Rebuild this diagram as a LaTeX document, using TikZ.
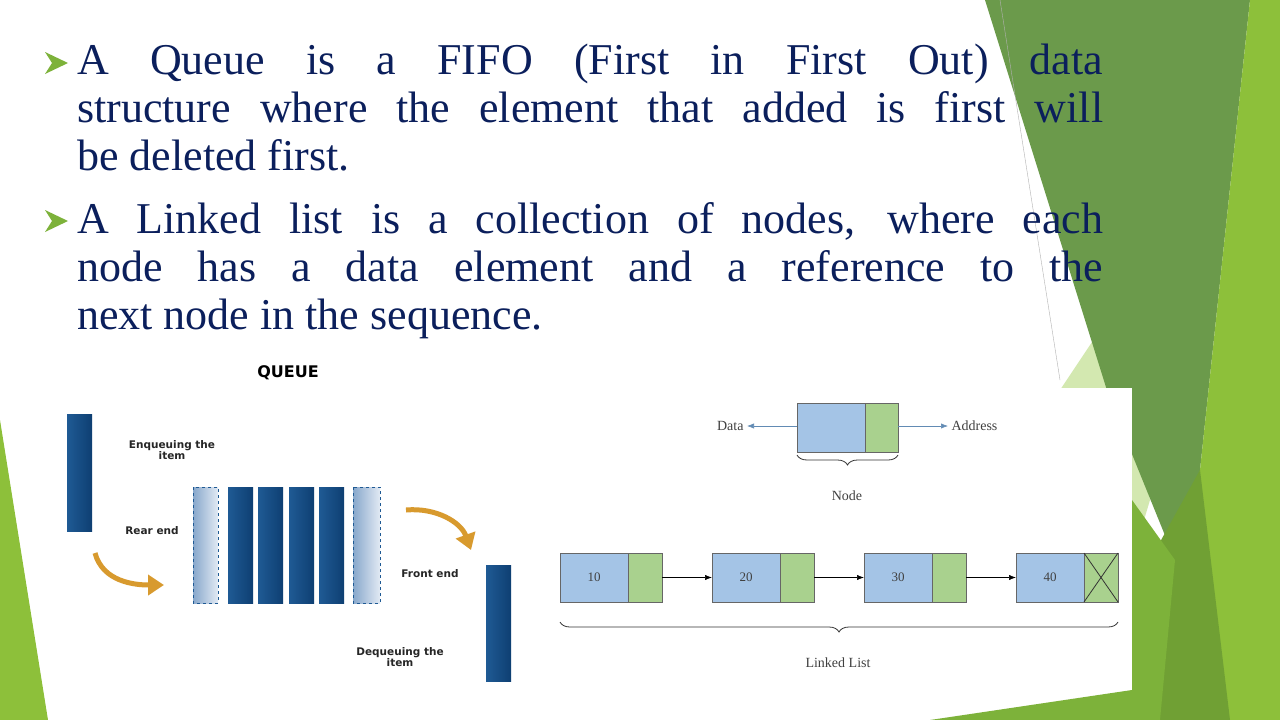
\documentclass[tikz,border=0pt]{standalone}
\usepackage{fontspec}
\setmainfont{Liberation Serif}
\newfontfamily\qfont{DejaVu Sans}
\usetikzlibrary{decorations.pathreplacing,arrows.meta}
\definecolor{navy}{HTML}{0B1F5C}
\definecolor{qblue}{HTML}{1F5A94}
\definecolor{qdark}{HTML}{0E3F72}
\definecolor{qlight}{HTML}{B5C9E3}
\definecolor{lblue}{HTML}{A4C4E6}
\definecolor{lgreen}{HTML}{A9D18E}
\definecolor{gdark}{HTML}{6B9A4B}
\definecolor{gmid}{HTML}{7DB23A}
\definecolor{gbright}{HTML}{8DC03A}
\definecolor{gpale}{HTML}{D3E8B0}
\definecolor{orng}{HTML}{D89A2E}
\tikzset{
 bar/.style={left color=qblue, right color=qdark, draw=none},
 ghost/.style={left color=qlight!70!qblue, right color=qlight!40, draw=qblue, dashed},
 qlab/.style={font=\qfont\bfseries\fontsize{10.5}{11}\selectfont, align=center, text=black!85},
 bcell/.style={fill=lblue, draw=gray!80!black, line width=0.6pt},
 gcell/.style={fill=lgreen, draw=gray!80!black, line width=0.6pt},
 llab/.style={font=\fontsize{14}{15}\selectfont, text=black!75},
 larr/.style={-{Latex[length=7pt]}, line width=0.6pt},
 oarr/.style={orng, line width=5pt, -{Triangle[length=16pt,width=20pt]}},
 bul/.style={fill=gmid, draw=none},
 para/.style={anchor=north west, inner sep=0pt, text width=1026pt, align=justify, text=navy, font=\fontsize{44}{48}\selectfont}
}
\begin{document}
\begin{tikzpicture}[x=1pt,y=-1pt]
\useasboundingbox (0,0) rectangle (1280,720);
\fill[white] (0,0) rectangle (1280,720);
% background greens
\fill[gpale] (1060,390) -- (1120,300) -- (1150,500) -- (1132,560) -- cycle;
\fill[gdark] (985,0) -- (1250,0) -- (1200,470) -- (1175,560) -- (1110,400) -- cycle;
\fill[gbright] (1250,0) -- (1280,0) -- (1280,720) -- (1140,720) -- (1200,470) -- cycle;
\fill[gmid!90!black] (1150,560) -- (1200,470) -- (1230,720) -- (1140,720) -- cycle;
\fill[gmid] (1132,500) -- (1175,560) -- (1160,720) -- (1132,720) -- cycle;
\fill[gmid] (930,720) -- (1132,690) -- (1132,720) -- cycle;
\fill[gbright] (0,420) -- (48,720) -- (0,720) -- cycle;
\draw[gray!60, line width=0.4pt] (1000,0) -- (1060,380);
% text
\fill[bul] (45,52) -- (68,63) -- (45,74) -- (52,63) -- cycle;
\fill[bul] (45,210) -- (68,221) -- (45,232) -- (52,221) -- cycle;
\node[para] (t1) at (77,44)
 {A Queue is a FIFO (First in First Out) data\linebreak structure where the element that added is first will\linebreak be deleted first.};
\node[para] (t2) at (77,202)
 {A Linked list is a collection of nodes, where each\linebreak node has a data element and a reference to the\linebreak next node in the sequence.};
% queue
\node[font=\qfont\bfseries\fontsize{16}{17}\selectfont] (qt) at (288,373) {QUEUE};
\fill[bar] (67,414) rectangle (92,531);
\fill[ghost] (193,487) rectangle (218,603);
\fill[bar] (228,487) rectangle (253,603);
\fill[bar] (258,487) rectangle (283,603);
\fill[bar] (289,487) rectangle (314,603);
\fill[bar] (319,487) rectangle (344,603);
\fill[ghost] (353,487) rectangle (380,603);
\fill[bar] (486,565) rectangle (511,681);
\node[qlab] (en) at (172,450) {Enqueuing the\\item};
\node[qlab] (re) at (152,531) {Rear end};
\node[qlab] (fe) at (430,574) {Front end};
\node[qlab] (de) at (400,657) {Dequeuing the\\item};
\coordinate (o1) at (95,553); \coordinate (o2) at (164,585);
\coordinate (o3) at (406,510); \coordinate (o4) at (471,550);
\draw[oarr] (o1) to[out=-75,in=180] (o2);
\draw[oarr] (o3) to[out=5,in=110] (o4);
% linked list panel
\fill[white] (540,388) rectangle (1132,690);
\draw[bcell] (797,403) rectangle (865,452);
\draw[gcell] (865,403) rectangle (898,452);
\node[llab, anchor=east] (dat) at (747,426) {Data};
\node[llab, anchor=west] (adr) at (948,426) {Address};
\draw[larr, draw=qblue!70, -{Latex[length=7pt]}] (797,426) -- (dat.east);
\draw[larr, draw=qblue!70, -{Latex[length=7pt]}] (898,426) -- (adr.west);
\draw[gray!40!black, line width=0.8pt, decorate, decoration={brace, mirror, amplitude=10pt}] (797,455) -- (898,455);
\node[llab] (nl) at (847,496) {Node};
\foreach \x/\v/\n in {560/10/a, 712/20/b, 864/30/c, 1016/40/d}{
 \draw[bcell] (\x,553) rectangle ++(68,49);
 \node[llab, font=\fontsize{13}{14}\selectfont] (\n) at (\x+34,577.5) {\v};
 \draw[gcell] (\x+68,553) rectangle ++(34,49);
 \coordinate (\n r) at (\x+102,577.5);
 \coordinate (\n l) at (\x,577.5);
}
\draw[gray!40!black, line width=0.8pt] (1084,553) -- (1118,602) (1084,602) -- (1118,553);
\draw[larr] (ar) -- (bl);
\draw[larr] (br) -- (cl);
\draw[larr] (cr) -- (dl);
\draw[gray!40!black, line width=0.8pt, decorate, decoration={brace, mirror, amplitude=10pt}] (560,622) -- (1118,622);
\node[llab] (ll) at (838,663) {Linked List};
\end{tikzpicture}
\end{document}
